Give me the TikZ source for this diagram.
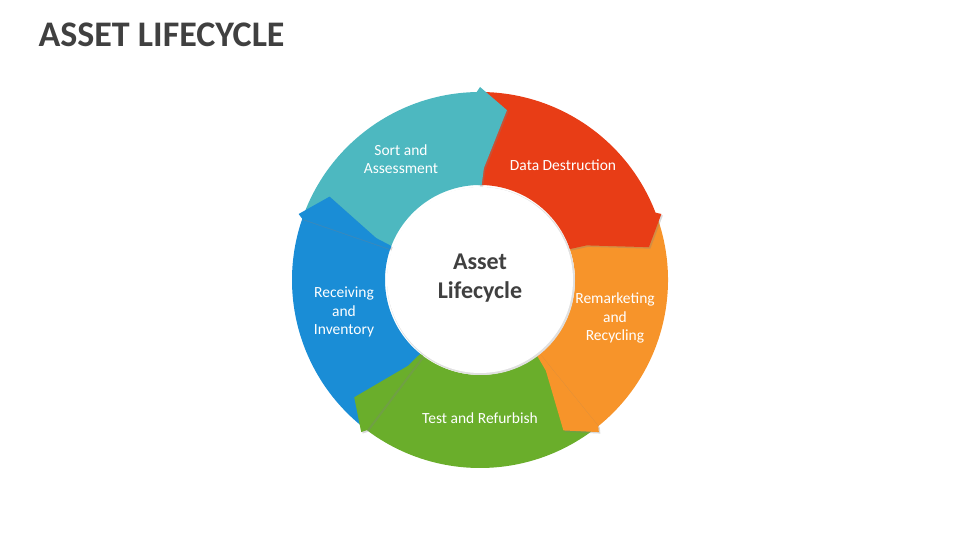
\documentclass[tikz,border=0pt]{standalone}
\usepackage{fontspec}
\usetikzlibrary{shadows}
\setmainfont{Carlito}
\begin{document}
\begin{tikzpicture}[x=1pt,y=1pt,
  lbl/.style={text=white,font=\fontsize{15.5}{18.5}\selectfont,align=center}]
\useasboundingbox (0,0) rectangle (960,540);
\definecolor{cred}{HTML}{E83D16}
\definecolor{corange}{HTML}{F7942A}
\definecolor{cgreen}{HTML}{6AAE2B}
\definecolor{cblue}{HTML}{1A8DD6}
\definecolor{cteal}{HTML}{4DB8C0}
\def\Ri{95}\def\Ro{188}
\newcommand{\segbody}[3]{%
  \fill[#1] ([shift={(480,260)}]#2:\Ri) -- ([shift={(480,260)}]#2:\Ro)
    arc[start angle=#2,end angle=#3,radius=\Ro] -- ([shift={(480,260)}]#3:\Ri)
    arc[start angle=#3,end angle=#2,radius=\Ri] -- cycle;}
\newcommand{\seghead}[2]{%
  \pgfmathsetmacro\tip{#2-9}\pgfmathsetmacro\back{#2+1}%
  \fill[#1,drop shadow={opacity=0.3,shadow xshift=1.5pt,shadow yshift=-1.5pt}] ([shift={(480,260)}]\back:\Ri) -- ([shift={(480,260)}]\back:\Ro)
    -- ([shift={(480,260)}]#2:\Ro+5) -- ([shift={(480,260)}]\tip:172)
    -- ([shift={(480,260)}]#2-2:112) -- ([shift={(480,260)}]#2-1:\Ri) -- cycle;}
\segbody{cred}{90}{20}
\segbody{corange}{20}{-52}
\segbody{cgreen}{-52}{-128}
\segbody{cblue}{-128}{-200}
\segbody{cteal}{160}{90}
\seghead{cteal}{90}
\seghead{cred}{20}
\seghead{corange}{-52}
\seghead{cgreen}{-128}
\seghead{cblue}{160}
\fill[black!12] (481,259) circle (\Ri-1);
\node[fill=white,circle,minimum size=2*\Ri-4,inner sep=0] (c) at (480,260) {};
\node[font=\bfseries\fontsize{24}{29}\selectfont,text=black!75,align=center] (ct) at (480,262) {Asset\\Lifecycle};
\node[lbl] (s1) at (401,381) {Sort and\\Assessment};
\node[lbl] (s2) at (563,375) {Data Destruction};
\node[lbl] (s3) at (615,222) {Remarketing\\and\\Recycling};
\node[lbl] (s4) at (480,122) {Test and Refurbish};
\node[lbl] (s5) at (344,228) {Receiving\\and\\Inventory};
\node[anchor=west,font=\bfseries\fontsize{36}{40}\selectfont,text=black!75] (t) at (35,505) {ASSET LIFECYCLE};
\end{tikzpicture}
\end{document}
